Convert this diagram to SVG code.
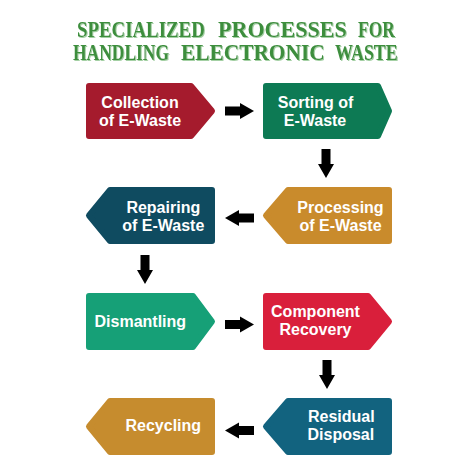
<svg xmlns="http://www.w3.org/2000/svg" xmlns:xlink="http://www.w3.org/1999/xlink" width="474" height="474" viewBox="0 0 474 474">
<style>
.title{font-family:"Liberation Serif","DejaVu Serif",serif;font-weight:bold;font-size:23px;fill:#3E8E3E;}
.lbl{font-family:"Liberation Sans",Arial,sans-serif;font-weight:bold;font-size:16px;fill:#FFFFFF;text-anchor:middle;}
.shape{stroke-width:6;stroke-linejoin:round;}
.arrow{fill:#000000;}
</style>
<defs>
<filter id="glow" x="-5%" y="-20%" width="110%" height="140%">
<feDropShadow dx="1" dy="1" stdDeviation="0.6" flood-color="#9ACB9A" flood-opacity="0.9"/>
</filter>
<path id="arr" d="M0,-4.5 H15 V-8 L29,0 L15,8 V4.5 H0 Z"/>
</defs>
<rect x="0" y="0" width="474" height="474" fill="#FFFFFF"/>
<g id="title" filter="url(#glow)">
<text class="title" x="0" y="0" transform="translate(77,36.5) scale(0.82,1)">SPECIALIZED</text>
<text class="title" x="0" y="0" transform="translate(218,36.5) scale(0.96,1)">PROCESSES</text>
<text class="title" x="0" y="0" transform="translate(358,36.5) scale(0.76,1)">FOR</text>
<text class="title" x="0" y="0" transform="translate(73,60) scale(0.76,1)">HANDLING</text>
<text class="title" x="0" y="0" transform="translate(181,60) scale(0.93,1)">ELECTRONIC</text>
<text class="title" x="0" y="0" transform="translate(335,60) scale(0.78,1)">WASTE</text>
</g>
<g id="connectors">
<use xlink:href="#arr" class="arrow" transform="translate(225,111)"/>
<use xlink:href="#arr" class="arrow" transform="translate(326,149) rotate(90)"/>
<use xlink:href="#arr" class="arrow" transform="translate(254,218) rotate(180)"/>
<use xlink:href="#arr" class="arrow" transform="translate(145,255) rotate(90)"/>
<use xlink:href="#arr" class="arrow" transform="translate(225,324.5)"/>
<use xlink:href="#arr" class="arrow" transform="translate(327,360) rotate(90)"/>
<use xlink:href="#arr" class="arrow" transform="translate(254,430.5) rotate(180)"/>
</g>
<g id="collection">
<polygon class="shape" fill="#A51B2D" stroke="#A51B2D" points="89,86 191,86 212,111 191,136 89,136"/>
<text class="lbl" x="140" y="108">Collection</text>
<text class="lbl" x="140" y="126">of E-Waste</text>
</g>
<g id="sorting">
<polygon class="shape" fill="#0D7A54" stroke="#0D7A54" points="266,86 378,86 389,111 378,136 266,136"/>
<text class="lbl" x="315.5" y="108">Sorting of</text>
<text class="lbl" x="315" y="126">E-Waste</text>
</g>
<g id="processing">
<polygon class="shape" fill="#C98B2C" stroke="#C98B2C" points="266,215.5 288,190 389,190 389,241 288,241"/>
<text class="lbl" x="340.5" y="213">Processing</text>
<text class="lbl" x="340.5" y="231">of E-Waste</text>
</g>
<g id="repairing">
<polygon class="shape" fill="#0F4B60" stroke="#0F4B60" points="89,215.5 110,190 212,190 212,241 110,241"/>
<text class="lbl" x="163.3" y="213">Repairing</text>
<text class="lbl" x="163.3" y="231">of E-Waste</text>
</g>
<g id="dismantling">
<polygon class="shape" fill="#16A077" stroke="#16A077" points="89,296 193,296 212,321.5 193,347 89,347"/>
<text class="lbl" x="140.3" y="327">Dismantling</text>
</g>
<g id="component">
<polygon class="shape" fill="#D91F3B" stroke="#D91F3B" points="266,296 368,296 389,321.5 368,347 266,347"/>
<text class="lbl" x="315.5" y="317">Component</text>
<text class="lbl" x="315.5" y="335">Recovery</text>
</g>
<g id="residual">
<polygon class="shape" fill="#12637F" stroke="#12637F" points="266,426.5 288,401 389,401 389,452 288,452"/>
<text class="lbl" x="308" y="422" style="text-anchor:start">Residual</text>
<text class="lbl" x="307.5" y="440" style="text-anchor:start">Disposal</text>
</g>
<g id="recycling">
<polygon class="shape" fill="#C68C2E" stroke="#C68C2E" points="89,426.5 110,401 212,401 212,452 110,452"/>
<text class="lbl" x="163.3" y="431">Recycling</text>
</g>
</svg>
